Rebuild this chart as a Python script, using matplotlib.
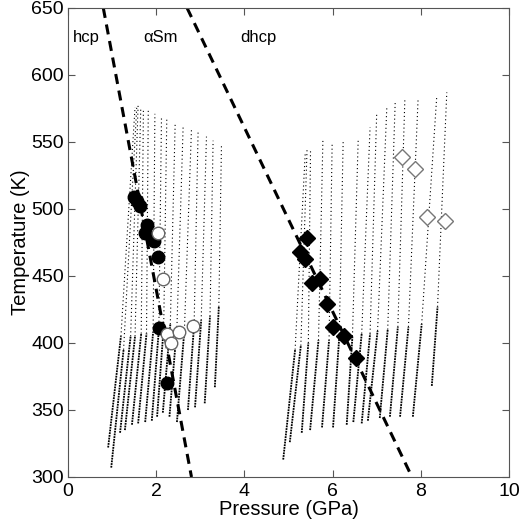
import matplotlib
matplotlib.use('Agg')
import matplotlib.pyplot as plt

plt.rcParams['font.family'] = ['Liberation Sans', 'DejaVu Sans']

# measurement streaks, left cloud: bottom, knee, top (P in GPa, T in K)
left_bot_p = [0.91, 0.98, 1.18, 1.29, 1.45, 1.59, 1.75, 1.90, 2.02, 2.15, 2.30, 2.47, 2.72, 2.88, 3.10, 3.33]
left_bot_t = [322, 307, 333, 335, 339, 340, 341, 342, 345, 348, 345, 341, 350, 352, 355, 367]
left_knee_p = [1.20, 1.26, 1.42, 1.52, 1.66, 1.78, 1.93, 2.06, 2.17, 2.32, 2.47, 2.64, 2.86, 3.02, 3.22, 3.42]
left_knee_t = [405, 395, 405, 405, 407, 407, 408, 410, 412, 414, 412, 410, 414, 417, 420, 427]
left_top_p = [1.52, 1.56, 1.59, 1.65, 1.71, 1.82, 1.97, 2.12, 2.24, 2.43, 2.61, 2.80, 2.95, 3.14, 3.29, 3.48]
left_top_t = [576, 577, 578, 576, 575, 574, 571, 569, 568, 564, 561, 560, 558, 554, 551, 548]

# right cloud
right_bot_p = [4.88, 5.03, 5.30, 5.49, 5.76, 6.01, 6.32, 6.47, 6.66, 6.80, 7.07, 7.30, 7.53, 7.82, 8.25]
right_bot_t = [313, 326, 333, 335, 337, 337, 339, 341, 340, 342, 344, 345, 345, 345, 368]
right_knee_p = [5.15, 5.28, 5.45, 5.68, 5.92, 6.15, 6.45, 6.66, 6.85, 7.02, 7.25, 7.48, 7.72, 8.02, 8.38]
right_knee_t = [395, 398, 400, 402, 402, 404, 405, 407, 407, 409, 410, 412, 412, 414, 427]
right_top_p = [5.38, 5.42, 5.50, 5.78, 5.99, 6.24, 6.58, 6.85, 7.00, 7.23, 7.42, 7.64, 7.94, 8.36, 8.59]
right_top_t = [542, 544, 545, 551, 549, 551, 551, 561, 571, 576, 580, 583, 583, 583, 587]

# transition points
fc_p = [1.50, 1.56, 1.63, 1.78, 1.75, 1.94, 2.05, 2.07, 2.24]
fc_t = [509, 506, 502, 488, 482, 476, 464, 411, 370]
oc_p = [2.03, 2.15, 2.24, 2.52, 2.83, 2.33]
oc_t = [482, 448, 407, 408, 413, 400]
fd_p = [5.41, 5.26, 5.37, 5.53, 5.71, 5.87, 6.00, 6.26, 6.53]
fd_t = [478, 468, 463, 445, 448, 429, 412, 405, 389]
od_p = [7.58, 7.88, 8.13, 8.55]
od_t = [539, 530, 494, 491]

# phase boundaries
line1_p = [0.8, 2.8]
line1_t = [650, 300]
line2_p = [2.7, 7.8]
line2_t = [650, 300]

phase_names = ['hcp', 'αSm', 'dhcp']
phase_x = [0.1, 1.7, 3.9]
phase_y = [628, 628, 628]

fig = plt.figure(figsize=(5.2, 5.31), dpi=100)
ax = fig.add_axes([0.1308, 0.1017, 0.848, 0.8833])

def draw_streaks(bp, bt, kp, kt, tp, tt):
    for i in range(len(bp)):
        ax.plot([bp[i], kp[i]], [bt[i], kt[i]], color='black', lw=1.3,
                linestyle=(0, (1, 0.5)))
        ax.plot([kp[i], tp[i]], [kt[i], tt[i]], color='black', lw=0.8,
                linestyle=(0, (1, 2.5)))

draw_streaks(left_bot_p, left_bot_t, left_knee_p, left_knee_t, left_top_p, left_top_t)
draw_streaks(right_bot_p, right_bot_t, right_knee_p, right_knee_t, right_top_p, right_top_t)

ax.plot(line1_p, line1_t, color='black', lw=2.2, dashes=(3.3, 2.2))
ax.plot(line2_p, line2_t, color='black', lw=2.2, dashes=(3.3, 2.2))

ax.plot(fc_p, fc_t, 'o', ms=9, color='black', mec='black', zorder=5)
ax.plot(oc_p, oc_t, 'o', ms=9, mfc='white', mec='#666666', mew=1.0, zorder=5)
ax.plot(fd_p, fd_t, 'D', ms=8, color='black', mec='black', zorder=5)
ax.plot(od_p, od_t, 'D', ms=8, mfc='white', mec='#777777', mew=1.0, zorder=5)

for name, x, y in zip(phase_names, phase_x, phase_y):
    ax.text(x, y, name, fontsize=12, va='center', ha='left')

ax.set_xlim(0, 10)
ax.set_ylim(300, 650)
ax.set_xticks([0, 2, 4, 6, 8, 10])
ax.set_yticks([300, 350, 400, 450, 500, 550, 600, 650])
ax.tick_params(direction='in', top=True, right=True, length=5, labelsize=14,
               color='#555555')
ax.tick_params(axis='x', pad=4)
ax.tick_params(axis='y', pad=3)
for s in ax.spines.values():
    s.set_color('#555555')
ax.set_xlabel('Pressure (GPa)', fontsize=14.5, labelpad=0)
ax.set_ylabel('Temperature (K)', fontsize=14.5, labelpad=1)

fig.savefig('out.png', dpi=100)
